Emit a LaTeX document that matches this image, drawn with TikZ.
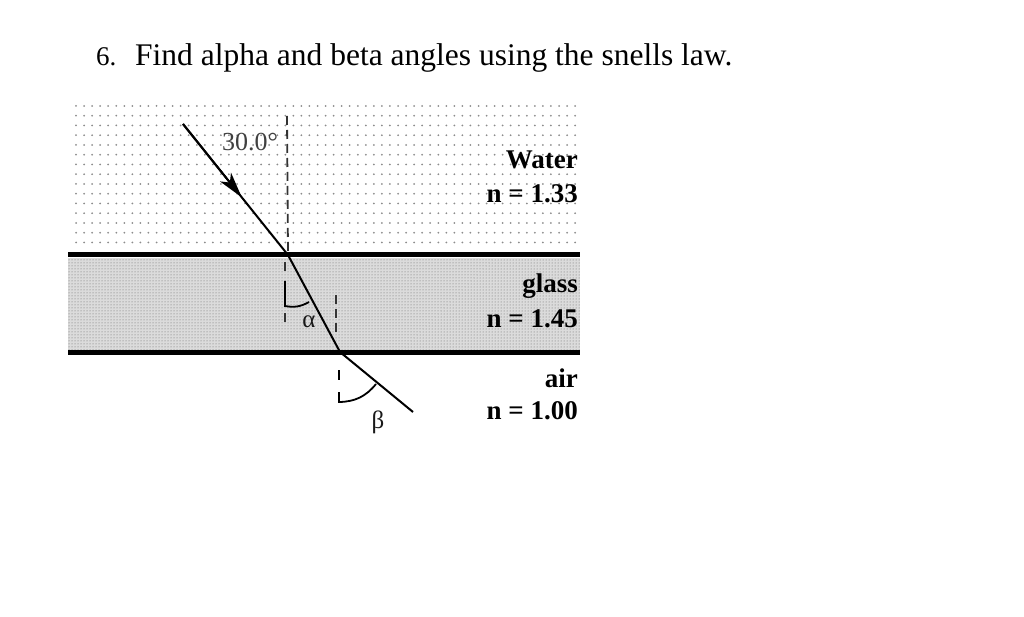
\documentclass[tikz,border=0pt]{standalone}
\usepackage{fontspec}
\setmainfont{Liberation Serif}
\usetikzlibrary{arrows.meta,patterns,calc}
\begin{document}
\begin{tikzpicture}[x=1pt,y=-1pt,
  boundary/.style={line width=5pt},
  normal/.style={line width=1.8pt,dash pattern=on 9pt off 5pt,black!80},
  ray/.style={line width=2pt},
  mat/.style={font=\fontsize{27}{30}\selectfont\bfseries,anchor=east,inner sep=0pt},
  greek/.style={font=\fontsize{25}{27}\selectfont,inner sep=0pt,text=black!90}]
\useasboundingbox (0,0) rectangle (1024,617);
% title
\node[anchor=base west,inner sep=0pt,font=\fontsize{27}{30}\selectfont] (num) at (96,66) {6.};
\node[anchor=base west,inner sep=0pt,font=\fontsize{31.5}{34}\selectfont] (title) at (135,66) {Find alpha and beta angles using the snells law.};
% water dots
\foreach \i in {0,...,62}{
  \foreach \j in {0,...,14}{
    \fill[black!45] (76+8.05*\i,106+9.75*\j) circle (1pt);
  }
}
% glass
\fill[black!14] (68,258) rectangle (580,350);
\fill[pattern=dots,pattern color=black!60] (68,258) rectangle (580,350);
% coordinates
\coordinate (s) at (183,124);
\coordinate (p) at (288,255);
\coordinate (q) at (340,352);
\coordinate (e) at (413,412);
% boundaries
\draw[boundary] (68,255) -- (580,255);
\draw[boundary] (68,352) -- (580,352);
% normals
\coordinate (n1) at (287,116);
\draw[normal] (n1) -- (p);
\draw[normal] (285,262) -- (285,272);
\draw[line width=1.8pt] (285,281) -- (285,306) to[bend right=20] (309,302);
\draw[normal] (285,313) -- (285,324);
\draw[normal] (336,295) -- (336,333);
\draw[line width=1.8pt] (339,370) -- (339,380);
\draw[line width=1.8pt] (339,392) -- (339,402) to[bend right=25] (376,384);
% rays
\draw[ray] (s) -- (p) -- (q) -- (e);
\draw[-{Stealth[length=26pt,width=14pt,inset=7pt]},ray] (s) -- ($(s)!0.56!(p)$);
% labels
\node[inner sep=0pt,anchor=base,font=\fontsize{26}{28}\selectfont,text=black!75] (ang) at (250,151) {30.0°};
\node[mat,anchor=base east] (w) at (578,169) {Water};
\node[mat,anchor=base east] (wn) at (578,203) {n = 1.33};
\node[mat,anchor=base east] (g) at (578,293) {glass};
\node[mat,anchor=base east] (gn) at (578,327) {n = 1.45};
\node[mat,anchor=base east] (a) at (578,387) {air};
\node[mat,anchor=base east] (an) at (578,419) {n = 1.00};
\node[greek] (al) at (309,322) {α};
\node[greek] (be) at (378,422) {β};
\end{tikzpicture}
\end{document}
